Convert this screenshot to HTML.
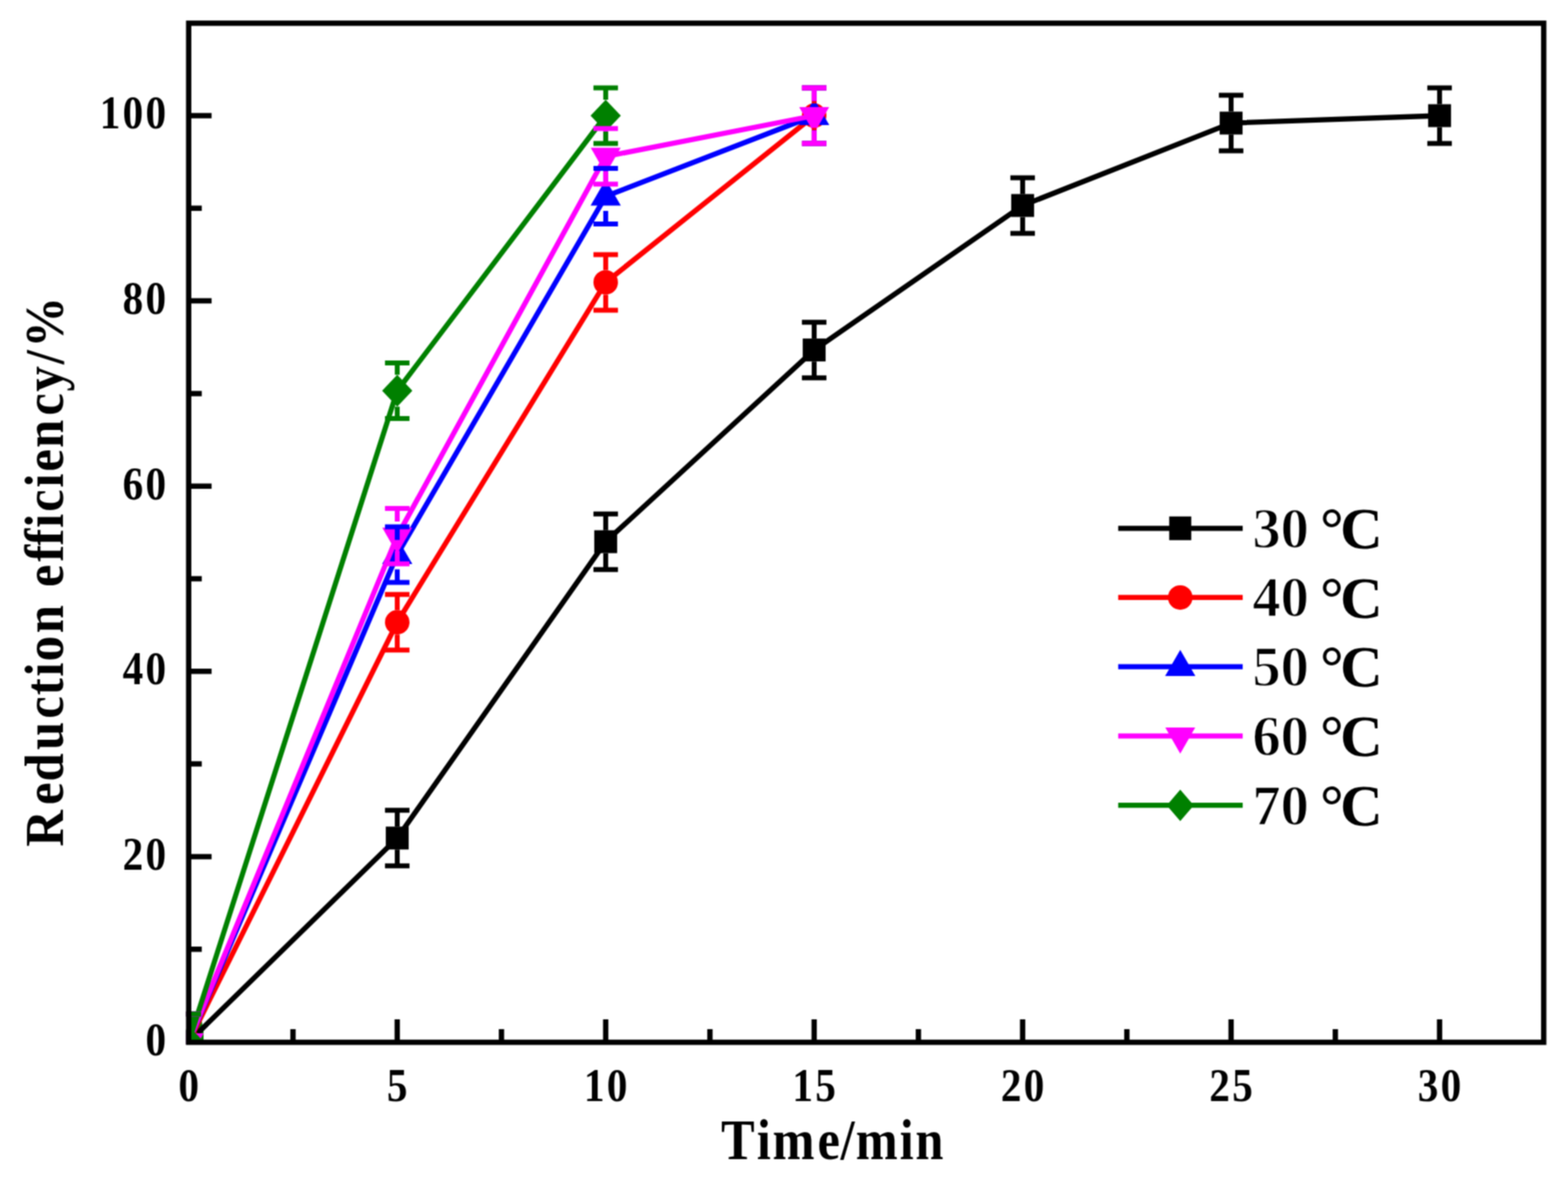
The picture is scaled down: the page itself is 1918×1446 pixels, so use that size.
<!DOCTYPE html>
<html lang="en"><head><meta charset="utf-8"><title>Reduction efficiency versus time at different temperatures</title>
<style>
html,body{margin:0;padding:0;background:#fff;overflow:hidden;}
svg{display:block;}
text{font-family:"Liberation Serif","Times New Roman",Times,serif;font-weight:bold;fill:#000;font-variant-ligatures:none;font-kerning:none;}
</style></head><body>
<svg width="1918" height="1446" viewBox="0 0 1918 1446" role="img" aria-label="Reduction efficiency versus time">
<defs><filter id="soft" x="0" y="0" width="1918" height="1446" filterUnits="userSpaceOnUse" color-interpolation-filters="sRGB"><feConvolveMatrix order="3" kernelMatrix="1 2 1 2 4 2 1 2 1" edgeMode="duplicate"/></filter></defs>
<g filter="url(#soft)">
<rect width="1918" height="1446" fill="#fff"/>
<defs><clipPath id="pc"><rect x="227.8" y="25.6" width="1663" height="1251.9"/></clipPath></defs>
<g clip-path="url(#pc)">
<polygon points="231,1238.5 245,1238.5 249,1262 249,1276 231,1276" fill="#008000"/>
<polyline points="230.9,1274.5 485.9,1025.24 740.9,662.68 995.9,428.15 1250.9,251.4 1505.9,150.56 1760.9,141.5" fill="none" stroke="#000000" stroke-width="6.3" stroke-linejoin="round"/>
<rect x="216.9" y="1260.5" width="28" height="28" fill="#000000"/>
<rect x="471.9" y="1011.24" width="28" height="28" fill="#000000"/>
<rect x="726.9" y="648.68" width="28" height="28" fill="#000000"/>
<rect x="981.9" y="414.15" width="28" height="28" fill="#000000"/>
<rect x="1236.9" y="237.4" width="28" height="28" fill="#000000"/>
<rect x="1491.9" y="136.56" width="28" height="28" fill="#000000"/>
<rect x="1746.9" y="127.5" width="28" height="28" fill="#000000"/>
<polyline points="230.9,1274.5 485.9,761.25 740.9,345.44 995.9,141.5" fill="none" stroke="#ff0000" stroke-width="6.3" stroke-linejoin="round"/>
<circle cx="230.9" cy="1274.5" r="15" fill="#ff0000"/>
<circle cx="485.9" cy="761.25" r="15" fill="#ff0000"/>
<circle cx="740.9" cy="345.44" r="15" fill="#ff0000"/>
<circle cx="995.9" cy="141.5" r="15" fill="#ff0000"/>
<polyline points="230.9,1274.5 485.9,678.54 740.9,240.07 995.9,141.5" fill="none" stroke="#0000ff" stroke-width="6.3" stroke-linejoin="round"/>
<polygon points="230.9,1254 249.4,1286 212.4,1286" fill="#0000ff"/>
<polygon points="485.9,658.04 504.4,690.04 467.4,690.04" fill="#0000ff"/>
<polygon points="740.9,219.57 759.4,251.57 722.4,251.57" fill="#0000ff"/>
<polygon points="995.9,121 1014.4,153 977.4,153" fill="#0000ff"/>
<polyline points="230.9,1274.5 485.9,655.88 740.9,191.35 995.9,141.5" fill="none" stroke="#ff00ff" stroke-width="6.3" stroke-linejoin="round"/>
<polygon points="212.6,1264 249.2,1264 230.9,1296" fill="#ff00ff"/>
<polygon points="467.6,645.38 504.2,645.38 485.9,677.38" fill="#ff00ff"/>
<polygon points="722.6,180.85 759.2,180.85 740.9,212.85" fill="#ff00ff"/>
<polygon points="977.6,131 1014.2,131 995.9,163" fill="#ff00ff"/>
<polyline points="230.9,1274.5 485.9,478 740.9,141.5" fill="none" stroke="#008000" stroke-width="6.3" stroke-linejoin="round"/>
<polygon points="230.9,1255 249.4,1274.5 230.9,1294 212.4,1274.5" fill="#008000"/>
<polygon points="485.9,458.5 504.4,478 485.9,497.5 467.4,478" fill="#008000"/>
<polygon points="740.9,122 759.4,141.5 740.9,161 722.4,141.5" fill="#008000"/>
<path d="M230.9 1260.5V1240.51M230.9 1288.5V1308.49M215.9 1240.51H245.9M215.9 1308.49H245.9" fill="none" stroke="#000000" stroke-width="6"/>
<path d="M485.9 1011.24V991.25M485.9 1039.24V1059.23M470.9 991.25H500.9M470.9 1059.23H500.9" fill="none" stroke="#000000" stroke-width="6"/>
<path d="M740.9 648.68V628.69M740.9 676.68V696.67M725.9 628.69H755.9M725.9 696.67H755.9" fill="none" stroke="#000000" stroke-width="6"/>
<path d="M995.9 414.15V394.16M995.9 442.15V462.14M980.9 394.16H1010.9M980.9 462.14H1010.9" fill="none" stroke="#000000" stroke-width="6"/>
<path d="M1250.9 237.4V217.41M1250.9 265.4V285.39M1235.9 217.41H1265.9M1235.9 285.39H1265.9" fill="none" stroke="#000000" stroke-width="6"/>
<path d="M1505.9 136.56V116.57M1505.9 164.56V184.55M1490.9 116.57H1520.9M1490.9 184.55H1520.9" fill="none" stroke="#000000" stroke-width="6"/>
<path d="M1760.9 127.5V107.51M1760.9 155.5V175.49M1745.9 107.51H1775.9M1745.9 175.49H1775.9" fill="none" stroke="#000000" stroke-width="6"/>
<path d="M230.9 1259.5V1240.51M230.9 1289.5V1308.49M215.9 1240.51H245.9M215.9 1308.49H245.9" fill="none" stroke="#ff0000" stroke-width="6"/>
<path d="M485.9 746.25V727.26M485.9 776.25V795.24M470.9 727.26H500.9M470.9 795.24H500.9" fill="none" stroke="#ff0000" stroke-width="6"/>
<path d="M740.9 330.44V311.45M740.9 360.44V379.43M725.9 311.45H755.9M725.9 379.43H755.9" fill="none" stroke="#ff0000" stroke-width="6"/>
<path d="M995.9 126.5V107.51M995.9 156.5V175.49M980.9 107.51H1010.9M980.9 175.49H1010.9" fill="none" stroke="#ff0000" stroke-width="6"/>
<path d="M230.9 1256.5V1240.51M230.9 1292.5V1308.49M215.9 1240.51H245.9M215.9 1308.49H245.9" fill="none" stroke="#0000ff" stroke-width="6"/>
<path d="M485.9 660.54V644.55M485.9 696.54V712.53M470.9 644.55H500.9M470.9 712.53H500.9" fill="none" stroke="#0000ff" stroke-width="6"/>
<path d="M740.9 222.07V206.08M740.9 258.07V274.06M725.9 206.08H755.9M725.9 274.06H755.9" fill="none" stroke="#0000ff" stroke-width="6"/>
<path d="M995.9 123.5V107.51M995.9 159.5V175.49M980.9 107.51H1010.9M980.9 175.49H1010.9" fill="none" stroke="#0000ff" stroke-width="6"/>
<path d="M230.9 1256.5V1240.51M230.9 1292.5V1308.49M215.9 1240.51H245.9M215.9 1308.49H245.9" fill="none" stroke="#ff00ff" stroke-width="6"/>
<path d="M485.9 637.88V621.89M485.9 673.88V689.87M470.9 621.89H500.9M470.9 689.87H500.9" fill="none" stroke="#ff00ff" stroke-width="6"/>
<path d="M740.9 173.35V157.36M740.9 209.35V225.34M725.9 157.36H755.9M725.9 225.34H755.9" fill="none" stroke="#ff00ff" stroke-width="6"/>
<path d="M995.9 123.5V107.51M995.9 159.5V175.49M980.9 107.51H1010.9M980.9 175.49H1010.9" fill="none" stroke="#ff00ff" stroke-width="6"/>
<path d="M230.9 1255V1240.51M230.9 1294V1308.49M215.9 1240.51H245.9M215.9 1308.49H245.9" fill="none" stroke="#008000" stroke-width="6"/>
<path d="M485.9 458.5V444.01M485.9 497.5V511.99M470.9 444.01H500.9M470.9 511.99H500.9" fill="none" stroke="#008000" stroke-width="6"/>
<path d="M740.9 122V107.51M740.9 161V175.49M725.9 107.51H755.9M725.9 175.49H755.9" fill="none" stroke="#008000" stroke-width="6"/>
</g>
<rect x="230.8" y="28.4" width="1657.5" height="1246.7" fill="none" stroke="#000" stroke-width="6.5"/>
<path d="M358.4 1275.1V1259.1M485.9 1275.1V1247.1M613.4 1275.1V1259.1M740.9 1275.1V1247.1M868.4 1275.1V1259.1M995.9 1275.1V1247.1M1123.4 1275.1V1259.1M1250.9 1275.1V1247.1M1378.4 1275.1V1259.1M1505.9 1275.1V1247.1M1633.4 1275.1V1259.1M1760.9 1275.1V1247.1M230.8 1161.2H246.8M230.8 1047.9H258.8M230.8 934.6H246.8M230.8 821.3H258.8M230.8 708H246.8M230.8 594.7H258.8M230.8 481.4H246.8M230.8 368.1H258.8M230.8 254.8H246.8M230.8 141.5H258.8" fill="none" stroke="#000" stroke-width="6.5"/>
<text transform="scale(0.9,1)" x="242.56" y="1347" font-size="56">0</text>
<text transform="scale(0.9,1)" x="525.9" y="1347" font-size="56">5</text>
<text transform="scale(0.9,1)" x="793.75 824.78" y="1347" font-size="56">10</text>
<text transform="scale(0.9,1)" x="1077.09 1108.12" y="1347" font-size="56">15</text>
<text transform="scale(0.9,1)" x="1360.33 1391.44" y="1347" font-size="56">20</text>
<text transform="scale(0.9,1)" x="1643.66 1674.79" y="1347" font-size="56">25</text>
<text transform="scale(0.9,1)" x="1927.01 1958.11" y="1347" font-size="56">30</text>
<text transform="scale(0.9,1)" x="197.78" y="1290.5" font-size="56">0</text>
<text transform="scale(0.9,1)" x="166.66 197.78" y="1063.9" font-size="56">20</text>
<text transform="scale(0.9,1)" x="166.65 197.78" y="837.3" font-size="56">40</text>
<text transform="scale(0.9,1)" x="166.68 197.78" y="610.7" font-size="56">60</text>
<text transform="scale(0.9,1)" x="166.67 197.78" y="384.1" font-size="56">80</text>
<text transform="scale(0.9,1)" x="135.64 166.67 197.78" y="157.5" font-size="56">100</text>
<text transform="scale(0.88,1)" x="1002.26 1052.12 1073.86 1136.33 1168.5 1189.48 1250.7 1272.57" y="1418.5" font-size="70">Time/min</text>
<text transform="translate(76.5,1040) rotate(-90) scale(0.92,1)" x="4.7 59.96 91.27 133.2 174.65 206.08 230.65 251.22 288.39 325.93 349.63 383.56 404.76 428.47 449.65 482.17 503.22 534.69 577.8 609.7 646.04 668.18" y="0" font-size="67.5">Reduction efficiency/%</text>
<line x1="1367.8" y1="646.3" x2="1520.1" y2="646.3" stroke="#000000" stroke-width="6.3"/>
<rect x="1430.2" y="631.8" width="27" height="29" fill="#000000"/>
<text transform="scale(1,1)" y="669.6" font-size="69"><tspan x="1532 1566.5" stroke="#fff" stroke-width="1.3">30 </tspan><tspan x="1614.65 1639.28" dy="1.4" font-size="72">°C</tspan></text>
<line x1="1367.8" y1="730.9" x2="1520.1" y2="730.9" stroke="#ff0000" stroke-width="6.3"/>
<circle cx="1443.7" cy="730.9" r="15" fill="#ff0000"/>
<text transform="scale(1,1)" y="754.2" font-size="69"><tspan x="1532 1566.5" stroke="#fff" stroke-width="1.3">40 </tspan><tspan x="1614.65 1639.28" dy="1.4" font-size="72">°C</tspan></text>
<line x1="1367.8" y1="815.6" x2="1520.1" y2="815.6" stroke="#0000ff" stroke-width="6.3"/>
<polygon points="1443.7,795.1 1462.2,827.1 1425.2,827.1" fill="#0000ff"/>
<text transform="scale(1,1)" y="838.9" font-size="69"><tspan x="1532 1566.5" stroke="#fff" stroke-width="1.3">50 </tspan><tspan x="1614.65 1639.28" dy="1.4" font-size="72">°C</tspan></text>
<line x1="1367.8" y1="900.4" x2="1520.1" y2="900.4" stroke="#ff00ff" stroke-width="6.3"/>
<polygon points="1425.4,889.9 1462,889.9 1443.7,921.9" fill="#ff00ff"/>
<text transform="scale(1,1)" y="923.7" font-size="69"><tspan x="1532 1566.5" stroke="#fff" stroke-width="1.3">60 </tspan><tspan x="1614.65 1639.28" dy="1.4" font-size="72">°C</tspan></text>
<line x1="1367.8" y1="985.2" x2="1520.1" y2="985.2" stroke="#008000" stroke-width="6.3"/>
<polygon points="1443.7,965.9 1460.2,985.2 1443.7,1004.5 1427.2,985.2" fill="#008000"/>
<text transform="scale(1,1)" y="1008.5" font-size="69"><tspan x="1532 1566.5" stroke="#fff" stroke-width="1.3">70 </tspan><tspan x="1614.65 1639.28" dy="1.4" font-size="72">°C</tspan></text>
</g>
</svg>
</body></html>
